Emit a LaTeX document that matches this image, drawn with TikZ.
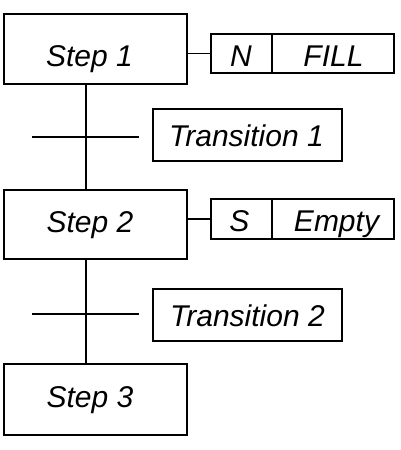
\documentclass[tikz,border=0pt]{standalone}
\usepackage{fontspec}
\setmainfont{Liberation Sans}
\begin{document}
\begin{tikzpicture}[x=1pt,y=-1pt,
  every node/.style={font=\fontsize{30}{34}\selectfont\itshape},
  txt/.style={anchor=base,inner sep=0pt},
  stepbox/.style={draw,line width=1.5pt,minimum width=183pt,minimum height=70pt,inner sep=0pt},
  transbox/.style={draw,line width=1.5pt,minimum width=189pt,minimum height=52pt,inner sep=0pt},
  qualbox/.style={draw,line width=1.5pt,minimum width=61pt,minimum height=39pt,inner sep=0pt},
  actbox/.style={draw,line width=1.5pt,minimum width=122pt,minimum height=39pt,inner sep=0pt},
  link/.style={line width=1.5pt},
  bar/.style={line width=1.2pt}]
\useasboundingbox (0,0) rectangle (400,450);
% steps
\node[stepbox] (s1) at (95.5,49) {};
\node[stepbox,minimum height=69pt] (s2) at (95.5,224.5) {};
\node[stepbox,minimum height=71pt] (s3) at (95.5,399.5) {};
\node[txt] (s1t) at (89.5,66) {Step 1};
\node[txt] (s2t) at (90,232) {Step 2};
\node[txt] (s3t) at (90,407) {Step 3};
% actions
\node[qualbox] (q1) at (241.5,53.5) {};
\node[actbox] (a1) at (333,53.5) {};
\node[qualbox,minimum height=40pt] (q2) at (241.5,219) {};
\node[actbox,minimum height=40pt] (a2) at (333,219) {};
\node[txt] (q1t) at (241,66) {N};
\node[txt] (a1t) at (333.5,66) {FILL};
\node[txt] (q2t) at (239.5,231) {S};
\node[txt] (a2t) at (336.5,231) {Empty};
% transitions
\node[transbox] (t1) at (247.5,135) {};
\node[transbox] (t2) at (247.5,315) {};
\node[txt] (t1t) at (246.5,146) {Transition 1};
\node[txt] (t2t) at (247.5,326) {Transition 2};
\coordinate (b1l) at (32,137);
\coordinate (b1r) at (139,137);
\coordinate (b1c) at (86,137);
\coordinate (b2l) at (32,314);
\coordinate (b2r) at (139,314);
\coordinate (b2c) at (86,314);
% connectors
\draw[link] (s1.south -| b1c) -- (s2.north -| b1c);
\draw[link] (s2.south -| b2c) -- (s3.north -| b2c);
\draw[bar] (b1l) -- (b1r);
\draw[bar] (b2l) -- (b2r);
\draw[link] (s1.east |- q1.west) -- (q1.west);
\draw[link] (s2.east |- q2.west) -- (q2.west);
\end{tikzpicture}
\end{document}
